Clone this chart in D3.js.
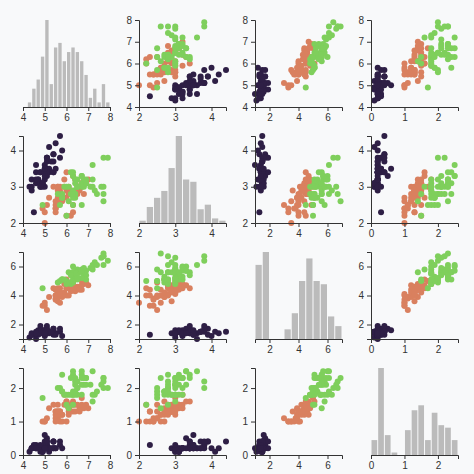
<!DOCTYPE html>
<html>
<head>
<meta charset="utf-8">
<script src="https://cdn.jsdelivr.net/npm/d3@7"></script>
<style>
  body { margin: 0; background: #f8f9fa; }
  svg { font-family: "Liberation Sans", Arial, sans-serif; }
  .tick text { font-size: 10px; fill: #333; }
</style>
</head>
<body>
<svg width="474" height="474"></svg>
<script>
// Iris dataset: [sepalLength, sepalWidth, petalLength, petalWidth]
const setosa = [
  [5.1,3.5,1.4,0.2],[4.9,3.0,1.4,0.2],[4.7,3.2,1.3,0.2],[4.6,3.1,1.5,0.2],[5.0,3.6,1.4,0.2],
  [5.4,3.9,1.7,0.4],[4.6,3.4,1.4,0.3],[5.0,3.4,1.5,0.2],[4.4,2.9,1.4,0.2],[4.9,3.1,1.5,0.1],
  [5.4,3.7,1.5,0.2],[4.8,3.4,1.6,0.2],[4.8,3.0,1.4,0.1],[4.3,3.0,1.1,0.1],[5.8,4.0,1.2,0.2],
  [5.7,4.4,1.5,0.4],[5.4,3.9,1.3,0.4],[5.1,3.5,1.4,0.3],[5.7,3.8,1.7,0.3],[5.1,3.8,1.5,0.3],
  [5.4,3.4,1.7,0.2],[5.1,3.7,1.5,0.4],[4.6,3.6,1.0,0.2],[5.1,3.3,1.7,0.5],[4.8,3.4,1.9,0.2],
  [5.0,3.0,1.6,0.2],[5.0,3.4,1.6,0.4],[5.2,3.5,1.5,0.2],[5.2,3.4,1.4,0.2],[4.7,3.2,1.6,0.2],
  [4.8,3.1,1.6,0.2],[5.4,3.4,1.5,0.4],[5.2,4.1,1.5,0.1],[5.5,4.2,1.4,0.2],[4.9,3.1,1.5,0.1],
  [5.0,3.2,1.2,0.2],[5.5,3.5,1.3,0.2],[4.9,3.1,1.5,0.1],[4.4,3.0,1.3,0.2],[5.1,3.4,1.5,0.2],
  [5.0,3.5,1.3,0.3],[4.5,2.3,1.3,0.3],[4.4,3.2,1.3,0.2],[5.0,3.5,1.6,0.6],[5.1,3.8,1.9,0.4],
  [4.8,3.0,1.4,0.3],[5.1,3.8,1.6,0.2],[4.6,3.2,1.4,0.2],[5.3,3.7,1.5,0.2],[5.0,3.3,1.4,0.2]
];
const versicolor = [
  [7.0,3.2,4.7,1.4],[6.4,3.2,4.5,1.5],[6.9,3.1,4.9,1.5],[5.5,2.3,4.0,1.3],[6.5,2.8,4.6,1.5],
  [5.7,2.8,4.5,1.3],[6.3,3.3,4.7,1.6],[4.9,2.4,3.3,1.0],[6.6,2.9,4.6,1.3],[5.2,2.7,3.9,1.4],
  [5.0,2.0,3.5,1.0],[5.9,3.0,4.2,1.5],[6.0,2.2,4.0,1.0],[6.1,2.9,4.7,1.4],[5.6,2.9,3.6,1.3],
  [6.7,3.1,4.4,1.4],[5.6,3.0,4.5,1.5],[5.8,2.7,4.1,1.0],[6.2,2.2,4.5,1.5],[5.6,2.5,3.9,1.1],
  [5.9,3.2,4.8,1.8],[6.1,2.8,4.0,1.3],[6.3,2.5,4.9,1.5],[6.1,2.8,4.7,1.2],[6.4,2.9,4.3,1.3],
  [6.6,3.0,4.4,1.4],[6.8,2.8,4.8,1.4],[6.7,3.0,5.0,1.7],[6.0,2.9,4.5,1.5],[5.7,2.6,3.5,1.0],
  [5.5,2.4,3.8,1.1],[5.5,2.4,3.7,1.0],[5.8,2.7,3.9,1.2],[6.0,2.7,5.1,1.6],[5.4,3.0,4.5,1.5],
  [6.0,3.4,4.5,1.6],[6.7,3.1,4.7,1.5],[6.3,2.3,4.4,1.3],[5.6,3.0,4.1,1.3],[5.5,2.5,4.0,1.3],
  [5.5,2.6,4.4,1.2],[6.1,3.0,4.6,1.4],[5.8,2.6,4.0,1.2],[5.0,2.3,3.3,1.0],[5.6,2.7,4.2,1.3],
  [5.7,3.0,4.2,1.2],[5.7,2.9,4.2,1.3],[6.2,2.9,4.3,1.3],[5.1,2.5,3.0,1.1],[5.7,2.8,4.1,1.3]
];
const virginica = [
  [6.3,3.3,6.0,2.5],[5.8,2.7,5.1,1.9],[7.1,3.0,5.9,2.1],[6.3,2.9,5.6,1.8],[6.5,3.0,5.8,2.2],
  [7.6,3.0,6.6,2.1],[4.9,2.5,4.5,1.7],[7.3,2.9,6.3,1.8],[6.7,2.5,5.8,1.8],[7.2,3.6,6.1,2.5],
  [6.5,3.2,5.1,2.0],[6.4,2.7,5.3,1.9],[6.8,3.0,5.5,2.1],[5.7,2.5,5.0,2.0],[5.8,2.8,5.1,2.4],
  [6.4,3.2,5.3,2.3],[6.5,3.0,5.5,1.8],[7.7,3.8,6.7,2.2],[7.7,2.6,6.9,2.3],[6.0,2.2,5.0,1.5],
  [6.9,3.2,5.7,2.3],[5.6,2.8,4.9,2.0],[7.7,2.8,6.7,2.0],[6.3,2.7,4.9,1.8],[6.7,3.3,5.7,2.1],
  [7.2,3.2,6.0,1.8],[6.2,2.8,4.8,1.8],[6.1,3.0,4.9,1.8],[6.4,2.8,5.6,2.1],[7.2,3.0,5.8,1.6],
  [7.4,2.8,6.1,1.9],[7.9,3.8,6.4,2.0],[6.4,2.8,5.6,2.2],[6.3,2.8,5.1,1.5],[6.1,2.6,5.6,1.4],
  [7.7,3.0,6.1,2.3],[6.3,3.4,5.6,2.4],[6.4,3.1,5.5,1.8],[6.0,3.0,4.8,1.8],[6.9,3.1,5.4,2.1],
  [6.7,3.1,5.6,2.4],[6.9,3.1,5.1,2.3],[5.8,2.7,5.1,1.9],[6.8,3.2,5.9,2.3],[6.7,3.3,5.7,2.5],
  [6.7,3.0,5.2,2.3],[6.3,2.5,5.0,1.9],[6.5,3.0,5.2,2.0],[6.2,3.4,5.4,2.3],[5.9,3.0,5.1,1.8]
];
const speciesNames = ["setosa", "versicolor", "virginica"];
const speciesColors = ["#2e1f45", "#d9805f", "#7fcf5c"];
const binTicks = [20, 12, 12, 12];

const data = [];
[setosa, versicolor, virginica].forEach((rows, s) => rows.forEach(r => data.push({v: r, s: s})));

const cell = 116, inner = 87;
const marginLeft = 23, marginTop = 20;
const n = 4;

const scales = d3.range(n).map(i => d3.scaleLinear()
    .domain(d3.extent(data, d => d.v[i])).nice()
    .range([0, inner]));

const svg = d3.select("svg");

for (let row = 0; row < n; row++) {
  for (let col = 0; col < n; col++) {
    const g = svg.append("g")
        .attr("transform", `translate(${marginLeft + col * cell}, ${marginTop + row * cell})`);
    const x = scales[col].copy();

    if (row === col) {
      // histogram on the diagonal
      const bins = d3.bin()
          .domain(x.domain())
          .thresholds(x.ticks(binTicks[col]))
          .value(d => d.v[col])(data);
      const y = d3.scaleLinear()
          .domain([0, d3.max(bins, b => b.length)])
          .range([inner, 0]);
      g.selectAll("rect")
        .data(bins)
        .enter()
        .append("rect")
        .attr("x", b => x(b.x0) + 0.5)
        .attr("width", b => Math.max(0, x(b.x1) - x(b.x0) - 1))
        .attr("y", b => y(b.length))
        .attr("height", b => inner - y(b.length))
        .attr("fill", "#bbbbbb");
    } else {
      const y = scales[row].copy().range([inner, 0]);
      g.selectAll("circle")
        .data(data)
        .enter()
        .append("circle")
        .attr("cx", d => x(d.v[col]))
        .attr("cy", d => y(d.v[row]))
        .attr("r", 3)
        .attr("fill", d => speciesColors[d.s]);
      g.append("g")
        .call(d3.axisLeft(y).ticks(3).tickSize(4).tickSizeOuter(4));
    }

    g.append("g")
        .attr("transform", `translate(0, ${inner})`)
        .call(d3.axisBottom(x).ticks(3).tickSize(4).tickSizeOuter(4));
  }
}
svg.selectAll(".domain, .tick line").attr("stroke", "#333");
</script>
</body>
</html>
